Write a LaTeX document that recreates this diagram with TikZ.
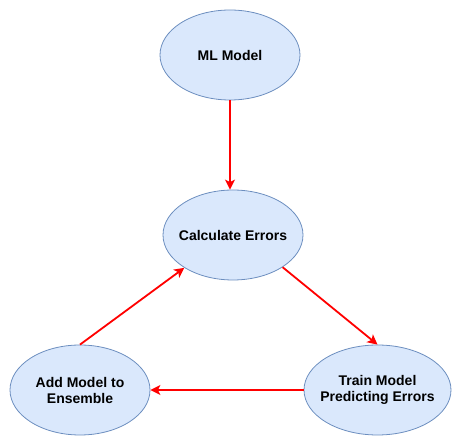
\documentclass[tikz,border=0pt]{standalone}
\usepackage{fontspec}
\setmainfont{Liberation Sans}
\usetikzlibrary{shapes.geometric,arrows.meta}
\definecolor{nodefill}{HTML}{DAE8FC}
\definecolor{nodeline}{HTML}{6C8EBF}
\begin{document}
\begin{tikzpicture}[x=1pt,y=-1pt,
  blob/.style={ellipse,draw=nodeline,fill=nodefill,line width=0.8pt,minimum width=140pt,minimum height=90pt,inner sep=0pt},
  txt/.style={align=center,font=\fontsize{14}{16}\selectfont\bfseries},
  flow/.style={draw=red,line width=1.8pt,-{Stealth[length=10pt,width=10pt,inset=2.5pt]}}]
\useasboundingbox (0,0) rectangle (461,446);
\node[blob,label={[txt]center:ML Model}] (ml) at (230,55) {};
\node[blob,label={[txt]center:Calculate Errors}] (calc) at (233,235) {};
\node[blob,minimum width=147pt,label={[txt]center:Train Model\\Predicting Errors}] (train) at (377.5,390) {};
\node[blob,label={[txt]center:Add Model to\\Ensemble}] (add) at (80,390) {};
\draw[flow] (ml.south) -- (ml.south |- calc.north);
\draw[flow] (calc.-33) -- (train.north);
\draw[flow] (train.west) -- (add.east);
\draw[flow] (add.north) -- (calc.-146);
\end{tikzpicture}
\end{document}
